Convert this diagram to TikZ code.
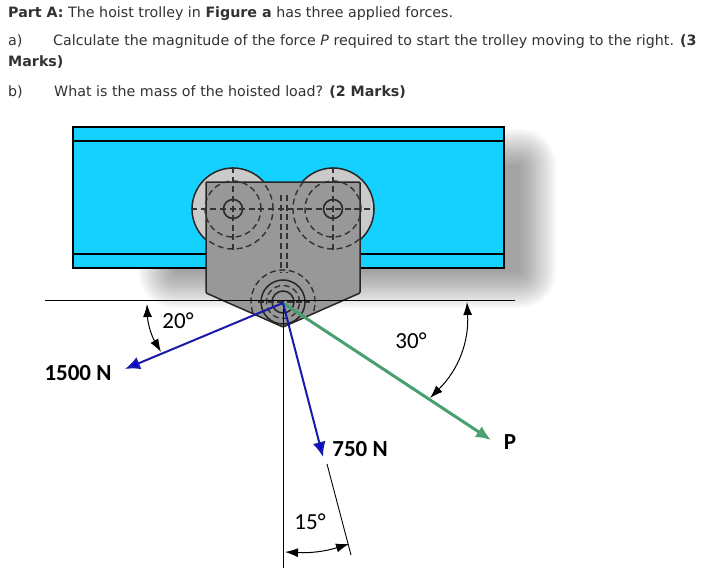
\documentclass[tikz,border=0pt]{standalone}
\usepackage{fontspec}
\setmainfont{DejaVu Sans}
\newfontfamily\labelfont{Carlito}
\usepackage{tikz}
\usetikzlibrary{positioning,arrows.meta}
\definecolor{beamcyan}{RGB}{20,209,255}
\definecolor{platagray}{RGB}{152,152,152}
\definecolor{wheelgray}{RGB}{202,202,202}
\definecolor{edgeblue}{RGB}{25,25,170}
\definecolor{tipblue}{RGB}{0,0,225}
\definecolor{forcegreen}{RGB}{72,160,112}
\definecolor{textgray}{RGB}{50,50,50}
\tikzset{
	question/.style={anchor=base west,inner sep=0pt,text=textgray,font=\fontsize{14.25}{17}\selectfont},
	figlabel/.style={inner sep=0pt,font=\labelfont\fontsize{23}{26}\selectfont},
	forcelabel/.style={figlabel,font=\labelfont\bfseries\fontsize{23}{26}\selectfont},
	hidden/.style={dash pattern=on 6pt off 3.6pt,line width=1.4pt,black!80},
	outline/.style={line width=1.5pt,black!85},
	dim/.style={{Latex[length=13pt,width=9pt]}-{Latex[length=13pt,width=9pt]},line width=1pt},
	blueforce/.style={-{Latex[length=15pt,width=13pt,fill=tipblue]},line width=2pt,edgeblue},
	greenforce/.style={-{Latex[length=15pt,width=13pt]},line width=3pt,forcegreen}
}
\begin{document}
\begin{tikzpicture}[x=1pt,y=-1pt]
		\useasboundingbox (0,0) rectangle (704,575);

		%question text
		\node[question] (q1) at (8,18) {\textbf{Part A:} The hoist trolley in \textbf{Figure a} has three applied forces.};
		\node[question] (q2) at (8,46) {a)};
		\node[question] (q3) at (53,46) {Calculate the magnitude of the force \textit{P} required to start the trolley moving to the right. \textbf{(3}};
		\node[question] (q4) at (8,67) {\textbf{Marks)}};
		\node[question] (q5) at (8,97) {b)};
		\node[question] (q6) at (54,97) {What is the mass of the hoisted load? \textbf{(2 Marks)}};

		%shadow of beam
		\begin{scope}
			\clip (60,105) rectangle (570,310);
			\foreach \i in {0,2,...,36}
				\fill[black,opacity=.025,rounded corners=\i pt] (175-\i,165-\i) rectangle (520+\i,272+\i);
		\end{scope}

		%beam
		\node[draw=black,line width=1.5pt,fill=beamcyan,minimum width=431pt,minimum height=141pt,inner sep=0pt] (beam) at (288.5,197.5) {};
		\coordinate (t1) at (73,141);
		\coordinate (t2) at (504,141);
		\coordinate (b1) at (73,254);
		\coordinate (b2) at (504,254);
		\draw[line width=1.4pt] (t1) -- (t2);
		\draw[line width=1.4pt] (b1) -- (b2);

		%wheels
		\node[circle,draw=black!85,line width=1.5pt,fill=wheelgray,minimum size=82pt,inner sep=0pt] (w1) at (233,209) {};
		\node[circle,draw=black!85,line width=1.5pt,fill=wheelgray,minimum size=82pt,inner sep=0pt] (w2) at (333,209) {};

		%plate
		\coordinate (p1) at (206,182);
		\coordinate (p2) at (360,182);
		\coordinate (p3) at (360,293);
		\coordinate (p4) at (283,327);
		\coordinate (p5) at (206,293);
		\draw[outline,fill=platagray,rounded corners=1pt] (p1) -- (p2) -- (p3) -- (p4) -- (p5) -- cycle;

		%hidden circles
		\foreach \c in {w1,w2}{
			\node[circle,hidden,draw,minimum size=56pt,inner sep=0pt] at (\c.center) {};
			\node[circle,outline,draw,minimum size=19pt,inner sep=0pt] at (\c.center) {};
		}
		\begin{scope}
			\clip (p1) -- (p2) -- (p3) -- (p4) -- (p5) -- cycle;
			\node[circle,hidden,draw,minimum size=80pt,inner sep=0pt] (w3) at (w1.center) {};
			\node[circle,hidden,draw,minimum size=80pt,inner sep=0pt] (w4) at (w2.center) {};
			\node[circle,hidden,draw,minimum size=64pt,inner sep=0pt] (h1) at (283,302) {};
		\end{scope}
		\node[circle,outline,draw,minimum size=44pt,inner sep=0pt] (h2) at (283,302) {};
		\node[circle,hidden,draw,minimum size=33pt,inner sep=0pt] (h3) at (283,302) {};
		\node[circle,outline,draw,minimum size=22pt,inner sep=0pt] (h4) at (283,302) {};

		%centre lines
		\draw[hidden] (w1.west) -- (w2.east);
		\draw[hidden] (w1.north) -- (w1.south);
		\draw[hidden] (w2.north) -- (w2.south);
		\coordinate (h5) at (258,302);
		\coordinate (h6) at (310,302);
		\draw[hidden] (h5) -- (h6);
		\coordinate (s1) at (281,195);
		\coordinate (s2) at (281,272);
		\coordinate (s3) at (287,195);
		\coordinate (s4) at (287,272);
		\draw[hidden] (s1) -- (s2);
		\draw[hidden] (s3) -- (s4);

		%reference lines
		\coordinate (r1) at (45,300);
		\coordinate (r2) at (515,300);
		\coordinate (r3) at (283,300);
		\coordinate (r4) at (283,568);
		\coordinate (r5) at (327,464);
		\coordinate (r6) at (351,555);
		\draw[line width=1pt] (r1) -- (r2);
		\draw[line width=1pt] (r3) -- (r4);
		\draw[line width=.9pt] (r5) -- (r6);

		%forces
		\coordinate (o) at (283,303);
		\coordinate (f1) at (125,369);
		\coordinate (f2) at (323,457);
		\coordinate (f3) at (491,440);
		\draw[greenforce] (o) -- (f3);
		\draw[blueforce] (o) -- (f1);
		\draw[blueforce] (o) -- (f2);

		%angle arrows
		\coordinate (a1) at (147,304);
		\coordinate (a2) at (161,352);
		\coordinate (a3) at (467,302);
		\coordinate (a4) at (430,398);
		\coordinate (a5) at (285,552);
		\coordinate (a6) at (349,544);
		\draw[dim] (a1) to[bend right=14] (a2);
		\draw[dim] (a3) to[bend left=24] (a4);
		\draw[dim] (a5) to[bend right=10] (a6);

		%labels
		\node[figlabel] (l1) at (178,321) {20\textdegree};
		\node[figlabel] (l2) at (411,341) {30\textdegree};
		\node[figlabel] (l3) at (310,522) {15\textdegree};
		\node[forcelabel] (l4) at (78,373) {1500 N};
		\node[forcelabel] (l5) at (360,449) {750 N};
		\node[forcelabel] (l6) at (510,442) {P};
	\end{tikzpicture}
\end{document}
